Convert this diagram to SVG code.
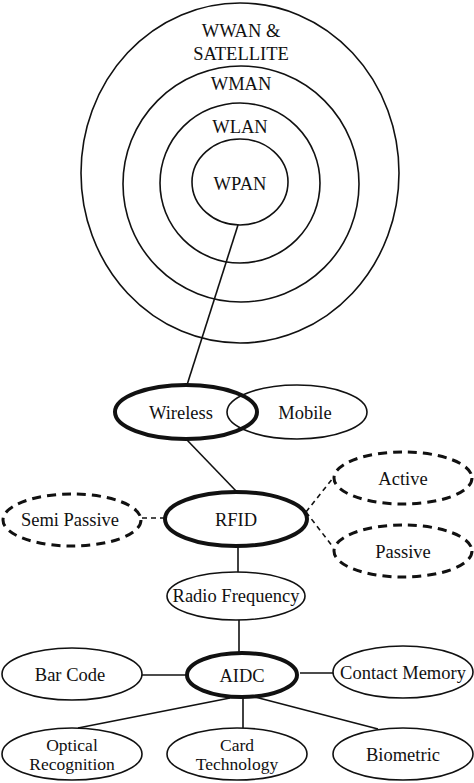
<svg xmlns="http://www.w3.org/2000/svg" width="474" height="783" viewBox="0 0 474 783">
<style>
.n{fill:#fff;stroke:#111;stroke-width:1.6}
.b{fill:#fff;stroke:#111;stroke-width:4}
.d{fill:#fff;stroke:#111;stroke-width:3;stroke-dasharray:9 6}
.c{fill:none;stroke:#111;stroke-width:1.6}
.cd{fill:none;stroke:#111;stroke-width:1.6;stroke-dasharray:5 4}
text{font-family:"Liberation Serif","Times New Roman",serif;font-size:18.5px;fill:#111;text-anchor:middle}
.s{font-size:17.5px}
</style>
<rect width="474" height="783" fill="#fff"/>
<g id="wwan"><ellipse class="n" cx="240" cy="173" rx="159" ry="170"/><text x="241" y="37">WWAN &amp;</text><text x="241" y="60">SATELLITE</text></g>
<g id="wman"><ellipse class="n" cx="241" cy="184" rx="118" ry="118"/><text x="241" y="90">WMAN</text></g>
<g id="wlan"><ellipse class="n" cx="240" cy="183" rx="80" ry="80"/><text x="240" y="133">WLAN</text></g>
<g id="wpan"><ellipse class="n" cx="240" cy="182" rx="48" ry="43"/><text x="240" y="190">WPAN</text></g>
<g id="connectors">
<line class="c" x1="238" y1="225" x2="187" y2="385"/>
<line class="c" x1="187" y1="440" x2="237" y2="492"/>
<line class="cd" x1="142" y1="518" x2="165" y2="518"/>
<line class="cd" x1="306" y1="512" x2="333" y2="478"/>
<line class="cd" x1="306" y1="512" x2="333" y2="547"/>
<line class="c" x1="238" y1="547" x2="238" y2="572"/>
<line class="c" x1="239" y1="620" x2="239" y2="653"/>
<line class="c" x1="142" y1="675" x2="187" y2="675"/>
<line class="c" x1="300" y1="673" x2="333" y2="673"/>
<line class="c" x1="230" y1="698" x2="78" y2="728"/>
<line class="c" x1="243" y1="698" x2="243" y2="728"/>
<line class="c" x1="255" y1="697" x2="378" y2="729"/>
</g>
<g id="mobile"><ellipse class="n" cx="297" cy="412" rx="70" ry="27"/><text x="305" y="419">Mobile</text></g>
<g id="wireless"><ellipse cx="186" cy="412" rx="71" ry="27" fill="none" stroke="#111" stroke-width="4"/><text x="181" y="419">Wireless</text></g>
<g id="rfid"><ellipse class="b" cx="236" cy="519" rx="71" ry="27"/><text x="236" y="526">RFID</text></g>
<g id="semipassive"><ellipse class="d" cx="72" cy="520" rx="69" ry="26"/><text x="70" y="526">Semi Passive</text></g>
<g id="active"><ellipse class="d" cx="403" cy="478" rx="69" ry="26"/><text x="403" y="485">Active</text></g>
<g id="passive"><ellipse class="d" cx="403" cy="551" rx="69" ry="26"/><text x="403" y="558">Passive</text></g>
<g id="radiofrequency"><ellipse class="n" cx="236" cy="596" rx="69" ry="24"/><text x="236" y="602">Radio Frequency</text></g>
<g id="aidc"><ellipse class="b" cx="242" cy="675" rx="55" ry="22"/><text x="242" y="682">AIDC</text></g>
<g id="barcode"><ellipse class="n" cx="72" cy="674" rx="70" ry="26"/><text x="70" y="681">Bar Code</text></g>
<g id="contactmemory"><ellipse class="n" cx="403" cy="672" rx="70" ry="26"/><text x="403" y="679">Contact Memory</text></g>
<g id="optical"><ellipse class="n" cx="72" cy="754" rx="70" ry="26"/><text class="s" x="72" y="751">Optical</text><text class="s" x="72" y="770">Recognition</text></g>
<g id="card"><ellipse class="n" cx="237" cy="754" rx="70" ry="26"/><text class="s" x="237" y="751">Card</text><text class="s" x="237" y="770">Technology</text></g>
<g id="biometric"><ellipse class="n" cx="403" cy="754" rx="70" ry="26"/><text x="403" y="761">Biometric</text></g>
</svg>
